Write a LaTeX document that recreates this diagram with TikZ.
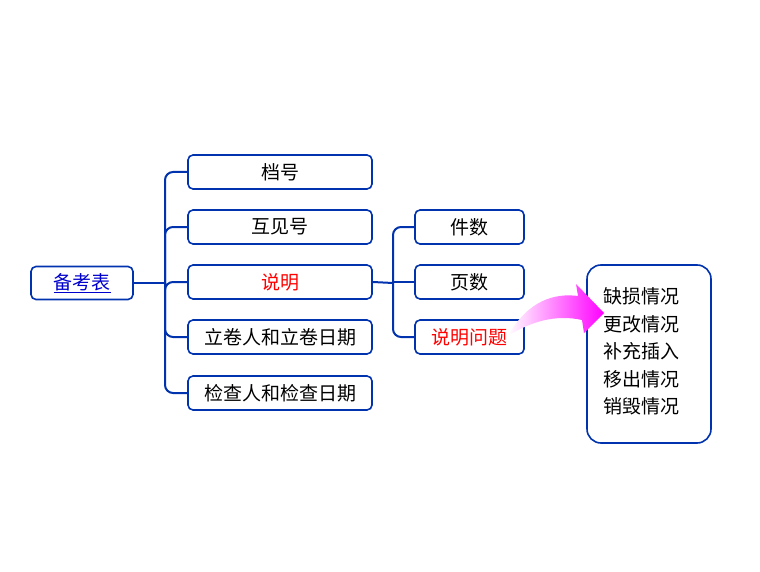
\documentclass[tikz,border=0pt]{standalone}
\usepackage{fontspec}
\setmainfont{Noto Sans CJK SC}
\begin{document}
\begin{tikzpicture}[x=1pt,y=-1pt,
  bx/.style={draw=blue!60!black!80!cyan, line width=1.6pt, rounded corners=5pt, inner sep=0pt, font=\fontsize{19}{22}\selectfont},
  ln/.style={draw=blue!60!black!80!cyan, line width=2pt, rounded corners=8pt}]
\useasboundingbox (0,0) rectangle (760,572);
\colorlet{bc}{blue!60!black!80!cyan}
\node[bx,minimum width=102pt,minimum height=33pt] (root) at (82,283) {\textcolor{blue!80!black}{\underline{备考表}}};
\foreach \n/\y/\t in {a/172/档号,b/227/互见号,c/282/\textcolor{red}{说明},d/337/立卷人和立卷日期,e/393/检查人和检查日期}
  \node[bx,minimum width=184pt,minimum height=34pt] (\n) at (280,\y) {\t};
\foreach \n/\y/\t in {f/227/件数,g/282/页数,h/337/\textcolor{red}{说明问题}}
  \node[bx,minimum width=109pt,minimum height=34pt] (\n) at (469.5,\y) {\t};
\node[bx,rounded corners=14pt,minimum width=124pt,minimum height=178pt] (r) at (649,354) {};
\node[font=\fontsize{19}{27.5}\selectfont,align=left,anchor=north west] (rt) at (600,284) {缺损情况\\更改情况\\补充插入\\移出情况\\销毁情况};
\draw[ln] (root.east) -- (165,283);
\draw[ln] (a.west) -- (165,172) -- (165,393) -- (e.west);
\draw[ln] (b.west) -| (165,283);
\draw[ln] (c.west) -| (165,283);
\draw[ln] (d.west) -| (165,283);
\draw[ln] (c.east) -- (393,283);
\draw[ln] (f.west) -- (393,227) -- (393,337) -- (h.west);
\draw[ln] (g.west) -- (393,282);
\shade[left color=white, right color=magenta, draw=none]
  (508,336) .. controls (528,300) and (555,293) .. (578,296)
  -- (576,284) -- (604,313) -- (584,333) -- (582,320)
  .. controls (555,314) and (530,322) .. (508,336) -- cycle;
\end{tikzpicture}
\end{document}
